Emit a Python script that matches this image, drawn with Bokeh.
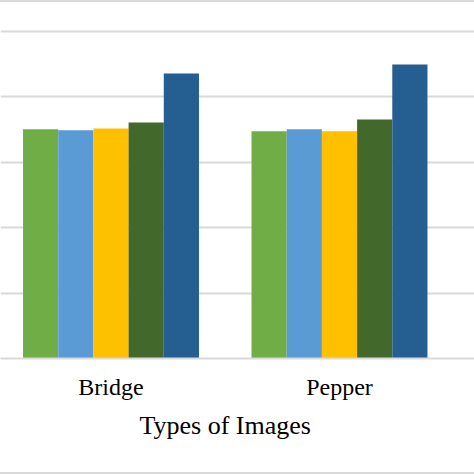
from bokeh.plotting import figure
from bokeh.models import Range1d, FixedTicker, ColumnDataSource
from bokeh.embed import file_html
from bokeh.resources import INLINE

# Categories and series
images = ["Bridge", "Pepper"]
methods = ["Method 1", "Method 2", "Method 3", "Method 4", "Method 5"]
colors = ["#70AD47", "#5B9BD5", "#FFC000", "#43682B", "#255E91"]

# Values per image, one per method
bridge_vals = [35.06, 34.91, 35.17, 36.09, 43.58]
pepper_vals = [34.76, 35.06, 34.76, 36.54, 44.95]

y_ticks = [0, 10, 20, 30, 40, 50]
x_title = "Types of Images"

SERIF = "Liberation Serif"

bar_w = 0.154
cat_pos = list(range(len(images)))

p = figure(
    width=474, height=474,
    x_range=Range1d(-0.4836, 1.5908),
    y_range=Range1d(0, 54.43),
    output_backend="svg", toolbar_location=None,
    min_border_left=0, min_border_right=0,
    min_border_top=0, min_border_bottom=118,
)
p.styles = {"border-top": "2px solid #d9d9d9", "border-bottom": "2px solid #d9d9d9",
            "box-sizing": "border-box"}
p.outline_line_color = None

for i, (m, c) in enumerate(zip(methods, colors)):
    off = (i - 2) * bar_w
    src = ColumnDataSource(dict(
        x=[pos + off for pos in cat_pos],
        top=[bridge_vals[i], pepper_vals[i]],
    ))
    p.vbar(x="x", top="top", bottom=0, width=bar_w, source=src,
           fill_color=c, line_color=None)

p.yaxis.visible = False
p.yaxis.ticker = FixedTicker(ticks=y_ticks)
p.ygrid.ticker = FixedTicker(ticks=y_ticks)
p.ygrid.grid_line_color = "#d9d9d9"
p.ygrid.grid_line_width = 2
p.xgrid.visible = False

p.xaxis.ticker = FixedTicker(ticks=cat_pos)
p.xaxis.major_label_overrides = {i: name for i, name in enumerate(images)}
p.xaxis.major_tick_line_color = None
p.xaxis.minor_tick_line_color = None
p.xaxis.axis_line_color = "#d9d9d9"
p.xaxis.axis_line_width = 2
p.xaxis.major_label_text_font = SERIF
p.xaxis.major_label_text_font_size = "24px"
p.xaxis.major_label_text_color = "#000000"
p.xaxis.major_label_standoff = 9

# Trailing no-break spaces nudge the centred title a little to the left
p.xaxis.axis_label = x_title + "\u00a0\u00a0\u00a0\u2009"
p.xaxis.axis_label_text_font = SERIF
p.xaxis.axis_label_text_font_size = "26px"
p.xaxis.axis_label_text_font_style = "normal"
p.xaxis.axis_label_text_color = "#000000"
p.xaxis.axis_label_standoff = 8

open("out.html", "w").write(file_html(p, INLINE))
